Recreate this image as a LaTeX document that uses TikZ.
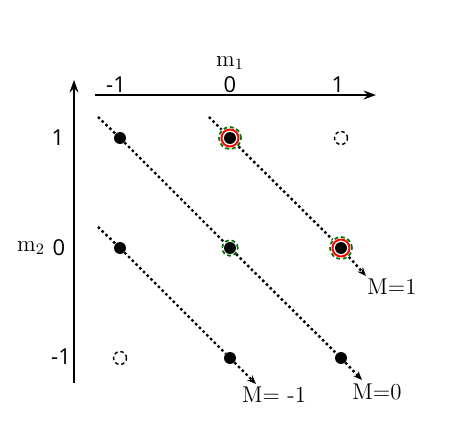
\documentclass[tikz,border=0pt]{standalone}
\usepackage{fontspec}
\newfontfamily\numfont{Open Sans}
\usetikzlibrary{arrows.meta}

\begin{document}
\begin{tikzpicture}[x=0.02cm,y=-0.02cm,
				every node/.style={font=\fontsize{13}{15}\selectfont},
				dot/.style={circle,fill=black,inner sep=0pt,minimum size=0.24cm},
				free/.style={circle,draw,line width=0.8pt,inner sep=0pt,minimum size=0.26cm,dash pattern=on 2pt off 1.6pt},
				redring/.style={circle,draw=red,line width=1.1pt,inner sep=0pt,minimum size=0.34cm},
				greenring/.style={circle,draw=green!45!black,line width=1pt,inner sep=0pt,minimum size=0.44cm,dash pattern=on 2.2pt off 1.6pt},
				smallring/.style={greenring,minimum size=0.31cm},
				axis/.style={line width=1.7pt,-{Stealth[length=7pt,width=5pt]}},
				mline/.style={line width=1.4pt,dash pattern=on 1.4pt off 1.6pt,-{Stealth[length=5pt,width=4pt]}},
				tick/.style={font=\numfont\fontsize{12.5}{15}\selectfont}]
\useasboundingbox (0,0) rectangle (474,439);

% axes
\coordinate (x0) at (95,95);
\coordinate (x1) at (376,95);
\coordinate (y0) at (74,383);
\coordinate (y1) at (74,80);
\draw[axis] (x0) -- (x1);
\draw[axis] (y0) -- (y1);
\node (m1) at (230,63) {$\mathrm{m}_1$};
\node (m2) at (31,248) {$\mathrm{m}_2$};
\node[tick] (tx-1) at (116,85) {-1};
\node[tick] (tx0) at (230,85) {0};
\node[tick] (tx1) at (338,85) {1};
\node[tick] (ty1) at (58,138) {1};
\node[tick] (ty0) at (59,248) {0};
\node[tick] (ty-1) at (61,357) {-1};

% states
\node[dot] (a1) at (120,138) {};
\node[dot] (b1) at (230,138) {};
\node[free] (c1) at (341,138) {};
\node[dot] (a0) at (120,248) {};
\node[dot] (b0) at (230,248) {};
\node[dot] (c0) at (341,248) {};
\node[free] (am) at (120,358) {};
\node[dot] (bm) at (230,358) {};
\node[dot] (cm) at (341,358) {};

% marked states
\node[redring] (rb1) at (b1) {};
\node[greenring] (gb1) at (b1) {};
\node[redring] (rc0) at (c0) {};
\node[greenring] (gc0) at (c0) {};
\node[smallring] (gb0) at (b0) {};

% lines of constant M
\coordinate (s1) at (209,117);
\coordinate (e1) at (366,276);
\coordinate (s0) at (98,117);
\coordinate (e0) at (362,380);
\coordinate (sm) at (98,227);
\coordinate (em) at (256,384);
\draw[mline] (s1) -- (gb1) -- (gc0) -- (e1);
\draw[mline] (s0) -- (a1) -- (gb0) -- (cm) -- (e0);
\draw[mline] (sm) -- (a0) -- (bm) -- (em);
\node (M1) at (392,287) {M=1};
\node (M0) at (377,392) {M=0};
\node (Mm) at (274,395) {M=\ -1};
\end{tikzpicture}
\end{document}
